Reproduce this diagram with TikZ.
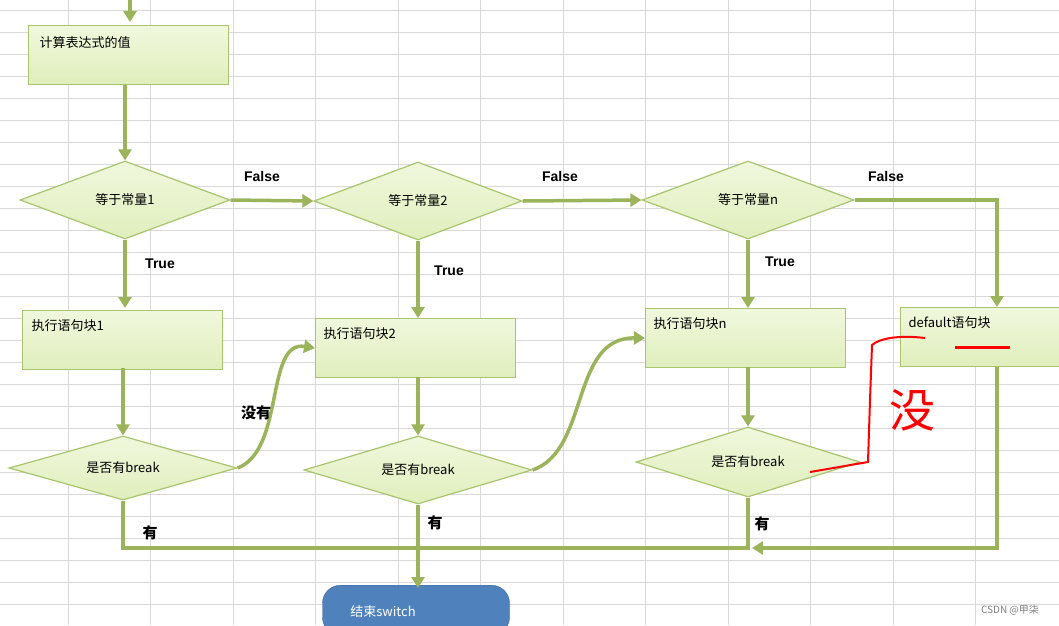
\documentclass[tikz,border=0pt]{standalone}
\usepackage{fontspec}
\setmainfont{Liberation Sans}
\newfontfamily\cjk{Noto Sans CJK SC}
\usetikzlibrary{shapes.geometric,arrows.meta}
\definecolor{gb}{HTML}{E6F3C6}
\definecolor{gd}{HTML}{A9C46C}
\definecolor{ar}{HTML}{9BB35A}
\definecolor{bl}{HTML}{4F81BD}
\tikzset{
 box/.style={draw=gd,line width=1.2pt,top color=gb!60!white,bottom color=gb!90!gd,minimum width=200pt,minimum height=59pt,inner sep=0pt},
 dia/.style={diamond,aspect=2.7,draw=gd,line width=1.2pt,top color=gb!60!white,bottom color=gb!90!gd,inner sep=0pt},
 flow/.style={draw=ar,line width=3.5pt,-{Triangle[length=11pt,width=13pt]}},
 line/.style={draw=ar,line width=3.5pt},
 lab/.style={font=\bfseries\fontsize{14}{16}\selectfont},
 txt/.style={font=\cjk\fontsize{13}{15}\selectfont,anchor=west},
}
\begin{document}
\begin{tikzpicture}[x=1pt,y=-1pt]
\useasboundingbox (0,0) rectangle (1059,625);
\fill[white] (0,0) rectangle (1059,625);
\foreach \x in {68,150,233,315,398,480,563,645,728,810,893,975} \draw[black!15] (\x,0)--(\x,625);
\foreach \y in {10,32,54,76,98,120,142,164,186,208,230,252,274,296,318,340,362,384,406,428,450,472,494,516,538,560,582,604} \draw[black!15] (0,\y)--(1059,\y);
\coordinate (top) at (130,0);
\node[box,anchor=north west] (b0) at (28,25) {};
\node[txt] at (36,43) {计算表达式的值};
\node[dia,minimum width=210pt,minimum height=78pt] (d1) at (125,200) {};
\node[txt,anchor=center] at (125,200) {等于常量1};
\node[dia,minimum width=208pt,minimum height=78pt] (d2) at (418,201) {};
\node[txt,anchor=center] at (418,201) {等于常量2};
\node[dia,minimum width=212pt,minimum height=78pt] (d3) at (748,200) {};
\node[txt,anchor=center] at (748,200) {等于常量n};
\node[box,anchor=north west] (b1) at (22,310) {};
\node[txt] at (28,326) {执行语句块1};
\node[box,anchor=north west] (b2) at (315,318) {};
\node[txt] at (320,334) {执行语句块2};
\node[box,anchor=north west] (b3) at (645,308) {};
\node[txt] at (650,324) {执行语句块n};
\node[box,anchor=north west,minimum width=170pt] (b4) at (900,307) {};
\node[txt] at (905,323) {default语句块};
\node[dia,minimum width=228pt,minimum height=64pt] (e1) at (123,468) {};
\node[txt,anchor=center] at (123,468) {是否有break};
\node[dia,minimum width=228pt,minimum height=68pt] (e2) at (418,470) {};
\node[txt,anchor=center] at (418,470) {是否有break};
\node[dia,minimum width=224pt,minimum height=70pt] (e3) at (748,462) {};
\node[txt,anchor=center] at (748,462) {是否有break};
\node[draw=bl!80!black,fill=bl,rounded corners=18pt,minimum width=187pt,minimum height=50pt,anchor=north] (end) at (416,585) {};
\node[txt,text=white,anchor=center] at (383,612) {结束switch};
\path[flow] (top) -- (130,22);
\path[flow] (125,85) -- (d1.north);
\path[flow] (d1.east) -- (d2.west);
\path[flow] (d2.east) -- (d3.west);
\path[flow] (d3.east) -- (997,200) -- (997,307);
\path[flow] (d1.south) -- (125,308);
\path[flow] (d2.south) -- (418,318);
\path[flow] (d3.south) -- (748,308);
\path[flow] (123,368) -- (e1.north);
\path[flow] (418,377) -- (e2.north);
\path[flow] (748,367) -- (e3.north);
\path[flow] (e1.east) .. controls (285,450) and (265,340) .. (b2.west);
\path[flow] (e2.east) .. controls (590,450) and (570,337) .. (b3.west);
\path[line] (e1.south) -- (123,548) -- (418,548);
\path[line] (e3.south) -- (748,548) -- (418,548);
\path[flow] (e2.south) -- (418,588);
\path[flow] (997,367) -- (997,548) -- (752,548);
\node[lab] at (262,176) {False};
\node[lab] at (560,176) {False};
\node[lab] at (886,176) {False};
\node[lab] at (160,264) {True};
\node[lab] at (449,271) {True};
\node[lab] at (780,262) {True};
\node[font=\cjk\bfseries\fontsize{15}{17}\selectfont] at (256,413) {没有};
\node[font=\cjk\bfseries\fontsize{15}{17}\selectfont] at (150,533) {有};
\node[font=\cjk\bfseries\fontsize{15}{17}\selectfont] at (435,523) {有};
\node[font=\cjk\bfseries\fontsize{15}{17}\selectfont] at (762,524) {有};
\draw[red,line width=2pt] (810,472) -- (868,462) -- (870,400) -- (872,345) .. controls (880,338) and (900,335) .. (925,338);
\draw[red,line width=3pt] (955,347) -- (1010,347);
\node[red,font=\cjk\fontsize{46}{46}\selectfont] at (912,410) {没};
\node[black!50,font=\cjk\fontsize{10}{12}\selectfont] at (1010,610) {CSDN @甲柒};
\end{tikzpicture}
\end{document}
